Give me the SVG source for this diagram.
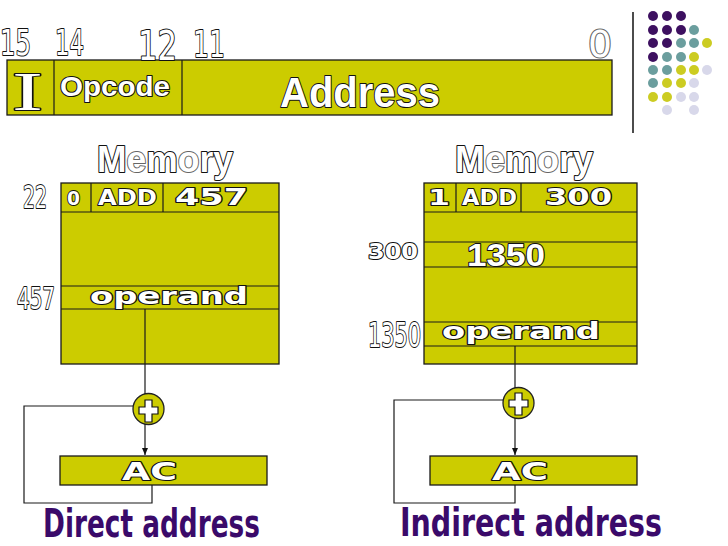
<svg xmlns="http://www.w3.org/2000/svg" width="728" height="546" viewBox="0 0 728 546">
<style>
.box{fill:#cccc00;stroke:#1a1a1a;stroke-width:1.3}
.ln{fill:none;stroke:#1a1a1a;stroke-width:1.2}
.o{fill:#fff;stroke:#111;stroke-width:2;paint-order:stroke;stroke-linejoin:round}
.nar{font-family:"Liberation Sans Narrow","DejaVu Sans Condensed","Liberation Sans",sans-serif}
.wide{font-family:"DejaVu Sans","Liberation Sans",sans-serif;font-weight:bold}
.ar{font-family:"Liberation Sans",Arial,sans-serif;font-weight:bold}
.g{stroke:#666}
.title{fill:#3a0a6a;font-family:"Liberation Sans Narrow","DejaVu Sans Condensed","Liberation Sans",sans-serif;font-weight:bold}
.P{fill:#3d1060}.T{fill:#6b9e9e}.Y{fill:#cccc22}.L{fill:#d8d8ea}
</style>
<defs>
<marker id="arr" markerWidth="8" markerHeight="8" refX="7" refY="4" orient="auto" markerUnits="userSpaceOnUse">
<path d="M0,1 L7,4 L0,7 Z" fill="#111"/>
</marker>
</defs>
<rect width="728" height="546" fill="#fff"/>

<g id="decor">
<line x1="633" y1="12" x2="633" y2="133" stroke="#111" stroke-width="1.5"/>
<g>
<circle class="P" cx="653" cy="16" r="5"/><circle class="P" cx="667" cy="16" r="5"/><circle class="P" cx="681" cy="16" r="5"/>
<circle class="P" cx="653" cy="30" r="5"/><circle class="P" cx="667" cy="30" r="5"/><circle class="P" cx="681" cy="30" r="5"/><circle class="T" cx="694" cy="30" r="5"/>
<circle class="P" cx="653" cy="43" r="5"/><circle class="P" cx="667" cy="43" r="5"/><circle class="T" cx="681" cy="43" r="5"/><circle class="T" cx="694" cy="43" r="5"/><circle class="Y" cx="707" cy="43" r="5"/>
<circle class="P" cx="653" cy="57" r="5"/><circle class="T" cx="667" cy="57" r="5"/><circle class="T" cx="681" cy="57" r="5"/><circle class="Y" cx="694" cy="57" r="5"/>
<circle class="T" cx="653" cy="70" r="5"/><circle class="T" cx="667" cy="70" r="5"/><circle class="Y" cx="681" cy="70" r="5"/><circle class="Y" cx="694" cy="70" r="5"/><circle class="L" cx="707" cy="70" r="5"/>
<circle class="T" cx="653" cy="83" r="5"/><circle class="Y" cx="667" cy="83" r="5"/><circle class="Y" cx="681" cy="83" r="5"/><circle class="L" cx="694" cy="83" r="5"/>
<circle class="Y" cx="653" cy="97" r="5"/><circle class="Y" cx="667" cy="97" r="5"/><circle class="L" cx="681" cy="97" r="5"/><circle class="L" cx="694" cy="97" r="5"/>
<circle class="L" cx="667" cy="110" r="5"/><circle class="L" cx="694" cy="110" r="5"/>
</g>
</g>

<g id="instruction-format">
<rect class="box" x="7" y="60" width="605" height="55"/>
<line class="ln" x1="54" y1="60" x2="54" y2="115"/>
<line class="ln" x1="182" y1="60" x2="182" y2="115"/>
<text class="o" x="12" y="110" font-family="Liberation Serif,serif" font-size="54" textLength="31" lengthAdjust="spacingAndGlyphs">I</text>
<text class="o ar" x="60" y="96" font-size="27" textLength="110" lengthAdjust="spacingAndGlyphs">Opcode</text>
<text class="o ar" x="280" y="107" font-size="42" textLength="160" lengthAdjust="spacingAndGlyphs">Address</text>
<text class="o nar" x="0" y="55" font-size="35" textLength="31" lengthAdjust="spacingAndGlyphs">15</text>
<text class="o nar" x="55" y="55" font-size="35" textLength="29" lengthAdjust="spacingAndGlyphs">14</text>
<text class="o nar" x="138" y="60" font-size="40" textLength="39" lengthAdjust="spacingAndGlyphs">12</text>
<text class="o nar" x="193" y="57" font-size="37" textLength="32" lengthAdjust="spacingAndGlyphs">11</text>
<text class="o nar g" x="588" y="57" font-size="37" textLength="24" lengthAdjust="spacingAndGlyphs">0</text>
</g>

<g id="direct-memory">
<text class="o ar" x="97" y="172" font-size="36" textLength="136" lengthAdjust="spacingAndGlyphs">M<tspan class="g">e</tspan>m<tspan class="g">o</tspan>ry</text>
<rect class="box" x="61" y="183" width="218" height="181"/>
<line class="ln" x1="61" y1="212" x2="279" y2="212"/>
<line class="ln" x1="61" y1="286" x2="279" y2="286"/>
<line class="ln" x1="61" y1="309" x2="279" y2="309"/>
<line class="ln" x1="91" y1="183" x2="91" y2="212"/>
<line class="ln" x1="163" y1="183" x2="163" y2="212"/>
<text class="o wide" x="67" y="205" font-size="20" textLength="13" lengthAdjust="spacingAndGlyphs">0</text>
<text class="o wide" x="98" y="205" font-size="22" textLength="59" lengthAdjust="spacingAndGlyphs">ADD</text>
<text class="o wide" x="175" y="205" font-size="23" textLength="73" lengthAdjust="spacingAndGlyphs">457</text>
<text class="o wide" x="90" y="304" font-size="23" textLength="158" lengthAdjust="spacingAndGlyphs">operand</text>
<text class="o nar" x="23" y="208" font-size="32" textLength="24" lengthAdjust="spacingAndGlyphs">22</text>
<text class="o nar" x="17" y="309" font-size="30" textLength="38" lengthAdjust="spacingAndGlyphs">457</text>
</g>

<g id="indirect-memory">
<text class="o ar" x="455" y="172" font-size="36" textLength="138" lengthAdjust="spacingAndGlyphs">M<tspan class="g">e</tspan>m<tspan class="g">o</tspan>ry</text>
<rect class="box" x="424" y="183" width="213" height="181"/>
<line class="ln" x1="424" y1="212" x2="637" y2="212"/>
<line class="ln" x1="424" y1="242" x2="637" y2="242"/>
<line class="ln" x1="424" y1="267" x2="637" y2="267"/>
<line class="ln" x1="424" y1="322" x2="637" y2="322"/>
<line class="ln" x1="424" y1="346" x2="637" y2="346"/>
<line class="ln" x1="456" y1="183" x2="456" y2="212"/>
<line class="ln" x1="521" y1="183" x2="521" y2="212"/>
<text class="o wide" x="428" y="205" font-size="22" textLength="22" lengthAdjust="spacingAndGlyphs">1</text>
<text class="o wide" x="462" y="205" font-size="22" textLength="55" lengthAdjust="spacingAndGlyphs">ADD</text>
<text class="o wide" x="545" y="205" font-size="23" textLength="67" lengthAdjust="spacingAndGlyphs">300</text>
<text class="o ar" x="467" y="266" font-size="32" textLength="78" lengthAdjust="spacingAndGlyphs">1350</text>
<text class="o wide" x="442" y="339" font-size="23" textLength="158" lengthAdjust="spacingAndGlyphs">operand</text>
<text class="o wide" x="368" y="259" font-size="22" textLength="50" lengthAdjust="spacingAndGlyphs">300</text>
<text class="o nar" x="368" y="347" font-size="33" textLength="53" lengthAdjust="spacingAndGlyphs">1350</text>
</g>

<g id="adder-direct">
<circle cx="148.5" cy="409" r="15.5" fill="#cccc00" stroke="#222" stroke-width="1.3"/>
<path d="M145,400 h7 v7 h6 v7 h-6 v8 h-7 v-8 h-6 v-7 h6 z" fill="#fff" stroke="#111" stroke-width="1.2"/>
</g>
<g id="adder-indirect">
<circle cx="518.5" cy="403" r="15.5" fill="#cccc00" stroke="#222" stroke-width="1.3"/>
<path d="M515,393 h7 v7 h6 v7 h-6 v8 h-7 v-8 h-6 v-7 h6 z" fill="#fff" stroke="#111" stroke-width="1.2"/>
</g>

<g id="ac-direct">
<rect class="box" x="60" y="456" width="207" height="29"/>
<text class="o wide" x="122" y="480" font-size="24" textLength="55" lengthAdjust="spacingAndGlyphs">AC</text>
</g>
<g id="ac-indirect">
<rect class="box" x="430" y="456" width="207" height="29"/>
<text class="o wide" x="492" y="480" font-size="24" textLength="56" lengthAdjust="spacingAndGlyphs">AC</text>
</g>

<g id="connectors">
<line class="ln" x1="145" y1="309" x2="145" y2="394"/>
<line class="ln" x1="145" y1="424" x2="145" y2="455" marker-end="url(#arr)"/>
<polyline class="ln" points="152,485 152,503 24,503 24,406 133,406"/>
<line class="ln" x1="515" y1="346" x2="515" y2="388"/>
<line class="ln" x1="515" y1="418" x2="515" y2="455" marker-end="url(#arr)"/>
<polyline class="ln" points="515,485 515,503 394,503 394,400 503,400"/>
</g>

<g id="captions">
<text class="title" x="43" y="537" font-size="39" textLength="217" lengthAdjust="spacingAndGlyphs">Direct address</text>
<text class="title" x="400" y="536" font-size="39" textLength="262" lengthAdjust="spacingAndGlyphs">Indirect address</text>
</g>
</svg>
